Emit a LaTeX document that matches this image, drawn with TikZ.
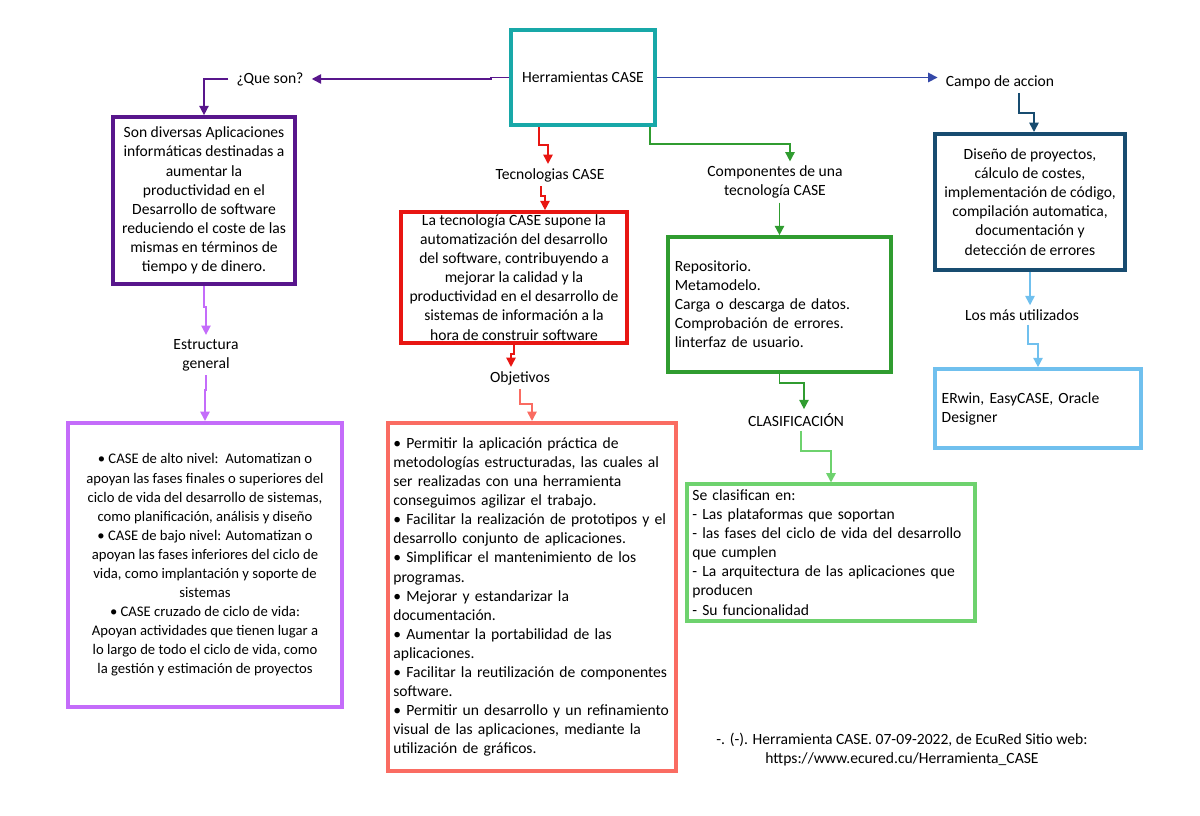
\documentclass[tikz,border=0pt]{standalone}
\usepackage{fontspec}
\setmainfont{Carlito}
\usetikzlibrary{arrows.meta, positioning, calc}
\definecolor{casteal}{RGB}{24,168,168}
\definecolor{caspurple}{RGB}{88,22,140}
\definecolor{caslilac}{RGB}{196,108,250}
\definecolor{casred}{RGB}{232,22,18}
\definecolor{cassalmon}{RGB}{250,108,98}
\definecolor{casgreen}{RGB}{48,156,48}
\definecolor{caslgreen}{RGB}{110,210,110}
\definecolor{casnavy}{RGB}{24,76,112}
\definecolor{casblue}{RGB}{52,72,168}
\definecolor{caslblue}{RGB}{112,192,238}

\begin{document}
\begin{tikzpicture}[x=0.75pt, y=-0.75pt,
  every node/.style={font=\fontsize{11.7}{14.3}\selectfont},
  box/.style={draw, line width=3pt, inner xsep=5pt, inner ysep=3pt},
  lbl/.style={inner xsep=6pt, inner ysep=3pt, align=center},
  conn/.style={line width=1.2pt, -{Triangle[length=7pt,width=7pt]}}]
\useasboundingbox (0,0) rectangle (1200,816);

% Main concept
\node[box, casteal, text=black, minimum width=108pt, minimum height=71pt] (herr) at (583,77.5) {Herramientas CASE};

% Left branch
\node[lbl] (queson) at (270,79) {¿Que son?};
\node[box, caspurple, text=black, align=center, inner xsep=2pt, minimum width=136.5pt, minimum height=125pt] (qbox) at (204,200.5)
  {Son diversas Aplicaciones\\informáticas destinadas a\\aumentar la\\productividad en el\\Desarrollo de software\\reduciendo el coste de las\\mismas en términos de\\tiempo y de dinero.};
\node[lbl] (estr) at (206,355) {Estructura\\general};
\node[box, caslilac, text=black, align=center, minimum width=205.5pt, minimum height=213pt,
  font=\fontsize{11}{14.3}\selectfont] (lav) at (205,565)
  {\textbullet{} CASE de alto nivel:\ \ Automatizan o\\apoyan las fases finales o superiores del\\ciclo de vida del desarrollo de sistemas,\\como planificación, análisis y diseño\\
   \textbullet{} CASE de bajo nivel: Automatizan o\\apoyan las fases inferiores del ciclo de\\vida, como implantación y soporte de\\sistemas\\
   \textbullet{} CASE cruzado de ciclo de vida:\\Apoyan actividades que tienen lugar a\\lo largo de todo el ciclo de vida, como\\la gestión y estimación de proyectos};

% Middle branch
\node[lbl] (tec) at (550,175) {Tecnologias CASE};
\node[box, casred, text=black, align=center, minimum width=169.5pt, minimum height=98pt, inner ysep=0pt] (redbox) at (514,277.5)
  {La tecnología CASE supone la\\automatización del desarrollo\\del software, contribuyendo a\\mejorar la calidad y la\\productividad en el desarrollo de\\sistemas de información a la\\hora de construir software};
\node[lbl] (obj) at (520,378) {Objetivos};
\node[box, cassalmon, text=black, align=left, text width=208pt, inner xsep=4pt, minimum height=261pt] (salm) at (532,597)
  {\textbullet{} Permitir la aplicación práctica de\\metodologías estructuradas, las cuales al\\ser realizadas con una herramienta\\conseguimos agilizar el trabajo.\\
   \textbullet{} Facilitar la realización de prototipos y el\\desarrollo conjunto de aplicaciones.\\
   \textbullet{} Simplificar el mantenimiento de los\\programas.\\
   \textbullet{} Mejorar y estandarizar la\\documentación.\\
   \textbullet{} Aumentar la portabilidad de las\\aplicaciones.\\
   \textbullet{} Facilitar la reutilización de componentes\\software.\\
   \textbullet{} Permitir un desarrollo y un refinamiento\\visual de las aplicaciones, mediante la\\utilización de gráficos.};

% Components branch
\node[lbl] (comp) at (775,182) {Componentes de una\\tecnología CASE};
\node[box, casgreen, text=black, align=left, text width=157pt, minimum height=101pt] (gbox) at (779.5,304.5)
  {Repositorio.\\Metamodelo.\\Carga o descarga de datos.\\Comprobación de errores.\\linterfaz de usuario.};
\node[lbl] (clas) at (796,420) {CLASIFICACIÓN};
\node[box, caslgreen, text=black, align=left, text width=208pt, inner xsep=4pt, minimum height=102pt, inner ysep=1pt] (lgbox) at (831,552.5)
  {Se clasifican en:\\- Las plataformas que soportan\\- las fases del ciclo de vida del desarrollo\\que cumplen\\- La arquitectura de las aplicaciones que\\producen\\- Su funcionalidad};

% Right branch
\node[lbl] (campo) at (1000,82) {Campo de accion};
\node[box, casnavy, text=black, align=center, inner xsep=2pt, minimum width=142.5pt, minimum height=102pt] (dbbox) at (1030,202)
  {Diseño de proyectos,\\cálculo de costes,\\implementación de código,\\compilación automatica,\\documentación y\\detección de errores};
\node[lbl] (mas) at (1022,315) {Los más utilizados};
\node[box, caslblue, text=black, align=left, text width=144.5pt, minimum height=59pt] (lbbox) at (1038,408.5)
  {ERwin, EasyCASE, Oracle\\Designer};

% Reference
\node[align=center] (cite) at (902,750) {-. (-). Herramienta CASE. 07-09-2022, de EcuRed Sitio web:\\https://www.ecured.cu/Herramienta\_CASE};

% Connectors
\draw[conn, caspurple] (herr.west) -- ++(-18,0) |- (queson.east);
\draw[conn, caspurple] (queson.west) -| (qbox.north);
\draw[conn, caslilac] (qbox.south) -- ++(0,21) -| (estr.north);
\draw[conn, caslilac] (estr.south) -- ++(0,15) -| (lav.north);

\draw[conn, casred] ($(herr.south west)+(30,0)$) -- ++(0,18) -| ($(tec.north)+(-2,0)$);
\draw[conn, casred] ($(tec.south)+(-9,0)$) -- ++(0,10) -| ($(redbox.north)+(31,0)$);
\draw[conn, casred] (redbox.south) -- ++(0,9) -| ($(obj.north)+(-9,0)$);
\draw[conn, cassalmon] (obj.south) -- ++(0,15) -| (salm.north);

\draw[conn, casgreen] ($(herr.south east)+(-7,0)$) -- ++(0,17) -| ($(comp.north)+(15,0)$);
\draw[conn, casgreen] (comp.south -| gbox.north) -- (gbox.north);
\draw[conn, casgreen] (gbox.south) -- ++(0,9) -| ($(clas.north)+(8,0)$);
\draw[conn, caslgreen] ($(clas.south)+(5,0)$) -- ++(0,20) -| (lgbox.north);

\draw[conn, casblue] (herr.east) -- (herr.east -| campo.west);
\draw[conn, casnavy] ($(campo.south)+(19,0)$) -- ++(0,20) -| ($(dbbox.north)+(4,0)$);
\draw[conn, caslblue] (dbbox.south) -- (dbbox.south |- mas.north);
\draw[conn, caslblue] ($(mas.south)+(6,0)$) -- ++(0,19) -| (lbbox.north);
\end{tikzpicture}
\end{document}
